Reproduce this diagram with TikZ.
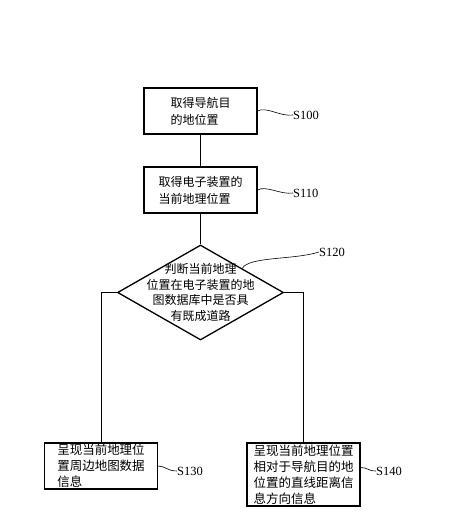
\documentclass[tikz,border=0pt]{standalone}
\usepackage{fontspec}
\setmainfont{Liberation Serif}
\newfontfamily\cjk{Noto Sans CJK SC}
\usetikzlibrary{shapes.geometric}
\tikzset{b/.style={draw, line width=1.3pt, minimum width=113pt, minimum height=46pt, inner sep=0pt, align=left, font=\cjk\fontsize{12}{17}\selectfont}}
\tikzset{bb/.style={b, font=\cjk\fontsize{12.5}{16}\selectfont}}
\tikzset{d/.style={draw, diamond, line width=1.3pt, minimum width=166pt, minimum height=95pt, inner sep=0pt}}
\tikzset{t/.style={align=center, font=\cjk\fontsize{12}{15.5}\selectfont}}
\tikzset{s/.style={anchor=west, inner sep=0pt, font=\fontsize{12.5}{12.5}\selectfont}}
\tikzset{w/.style={line width=0.6pt}}

\begin{document}
\begin{tikzpicture}[x=1pt, y=-1pt]
        \useasboundingbox (0,0) rectangle (474,515);
        \node [b] (S100) at (200.5, 111) {取得导航目\\的地位置};
        \node [b] (S110) at (200.5, 190) {取得电子装置的\\当前地理位置}
          edge [w] (S100);
        \node [d] (S120) at (200.5, 292.5) {}
          edge [w] (S110);
        \node [t] (S120t) at (S120) {判断当前地理\\位置在电子装置的地\\图数据库中是否具\\有既成道路};
        \node [bb] (S130) at (101, 466) {呈现当前地理位\\置周边地图数据\\信息};
        \node [bb, minimum height=63pt] (S140) at (303.5, 474.5) {呈现当前地理位置\\相对于导航目的地\\位置的直线距离信\\息方向信息};
        \draw [w] (S120.west) -| (S130.north);
        \draw [w] (S120.east) -| (S140.north);
        % step labels
        \node [s] (L100) at (293, 115) {S100};
        \node [s] (L110) at (293, 193) {S110};
        \node [s] (L120) at (319, 252) {S120};
        \node [s] (L130) at (177, 471) {S130};
        \node [s] (L140) at (376, 471) {S140};
        \draw [w] (S100.east) .. controls +(8,-5) and +(-12,2) .. (L100.west);
        \draw [w] (S110.east) .. controls +(8,-5) and +(-12,2) .. (L110.west);
        \draw [w] (S120.north east) .. controls +(6,-12) and +(-25,8) .. (L120.west);
        \draw [w] (S130.east) .. controls +(7,0) and +(-10,0) .. (L130.west);
        \draw [w] ([yshift=7pt]S140.east) .. controls +(7,0) and +(-8,0) .. (L140.west);
      \end{tikzpicture}
\end{document}
